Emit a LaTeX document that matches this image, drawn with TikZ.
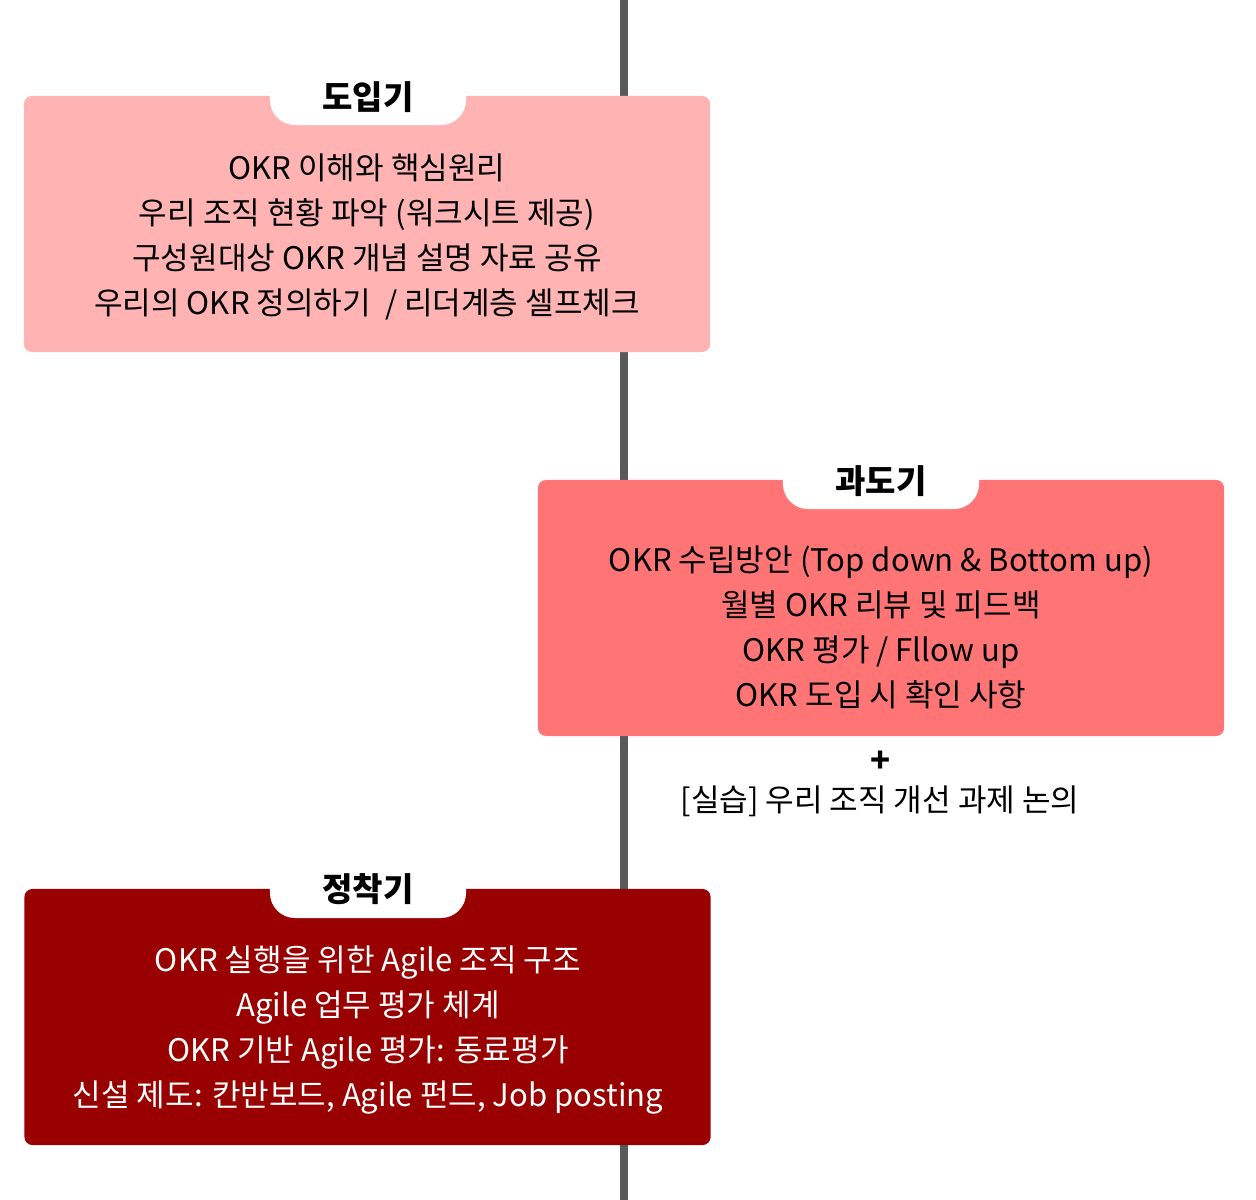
\documentclass[tikz,border=0pt]{standalone}
\usepackage{fontspec}
\setmainfont{Noto Sans CJK KR}
\begin{document}
\begin{tikzpicture}[x=0.025cm, y=-0.025cm,
  phasebox/.style={rounded corners=0.2cm, minimum width=17.15cm, minimum height=6.4cm, inner sep=0pt},
  phasetab/.style={fill=white, rounded corners=0.625cm, minimum width=4.9cm, minimum height=1.375cm, inner sep=0pt},
  phasetitle/.style={font=\fontsize{23.5pt}{28pt}\selectfont\bfseries, inner sep=0pt},
  phasetext/.style={font=\fontsize{22.1pt}{32pt}\selectfont, align=center, inner sep=0pt}]
\definecolor{introcol}{HTML}{FFB3B3}
\definecolor{midcol}{HTML}{FF7575}
\definecolor{settlecol}{HTML}{990000}
\definecolor{linecol}{HTML}{595959}
\useasboundingbox (0, 0) rectangle (1256, 1200);

% Timeline
\coordinate (top) at (624, 0);
\coordinate (bot) at (624, 1200);
\draw[linecol, line width=5pt] (top) -- (bot);

% Phase 1
\node[phasebox, fill=introcol] (box1) at (367, 224) {};
\node[phasetab] (tab1) at (368, 97.5) {};
\node[phasetitle] (title1) at (368, 97) {도입기};
\node[phasetext] (text1) at (367, 237) {OKR 이해와 핵심원리\\우리 조직 현황 파악 (워크시트 제공)\\구성원대상 OKR 개념 설명 자료 공유\\우리의 OKR 정의하기 \ / 리더계층 셀프체크};

% Phase 2
\node[phasebox, fill=midcol] (box2) at (881, 608) {};
\node[phasetab] (tab2) at (881, 481.5) {};
\node[phasetitle] (title2) at (881, 481) {과도기};
\node[phasetext] (text2) at (881, 627) {OKR 수립방안 (Top down \& Bottom up)\\월별 OKR 리뷰 및 피드백\\OKR 평가 / Fllow up\\OKR 도입 시 확인 사항};
\node[phasetitle] (plus) at (881, 762) {+};
\node[phasetext] (task) at (880, 801) {[실습] 우리 조직 개선 과제 논의};

% Phase 3
\node[phasebox, fill=settlecol] (box3) at (367.5, 1017) {};
\node[phasetab] (tab3) at (368, 890.5) {};
\node[phasetitle] (title3) at (368, 889) {정착기};
\node[phasetext, text=white] (text3) at (368, 1030) {OKR 실행을 위한 Agile 조직 구조\\Agile 업무 평가 체계\\OKR 기반 Agile 평가: 동료평가\\신설 제도: 칸반보드, Agile 펀드, Job posting};
\end{tikzpicture}
\end{document}
